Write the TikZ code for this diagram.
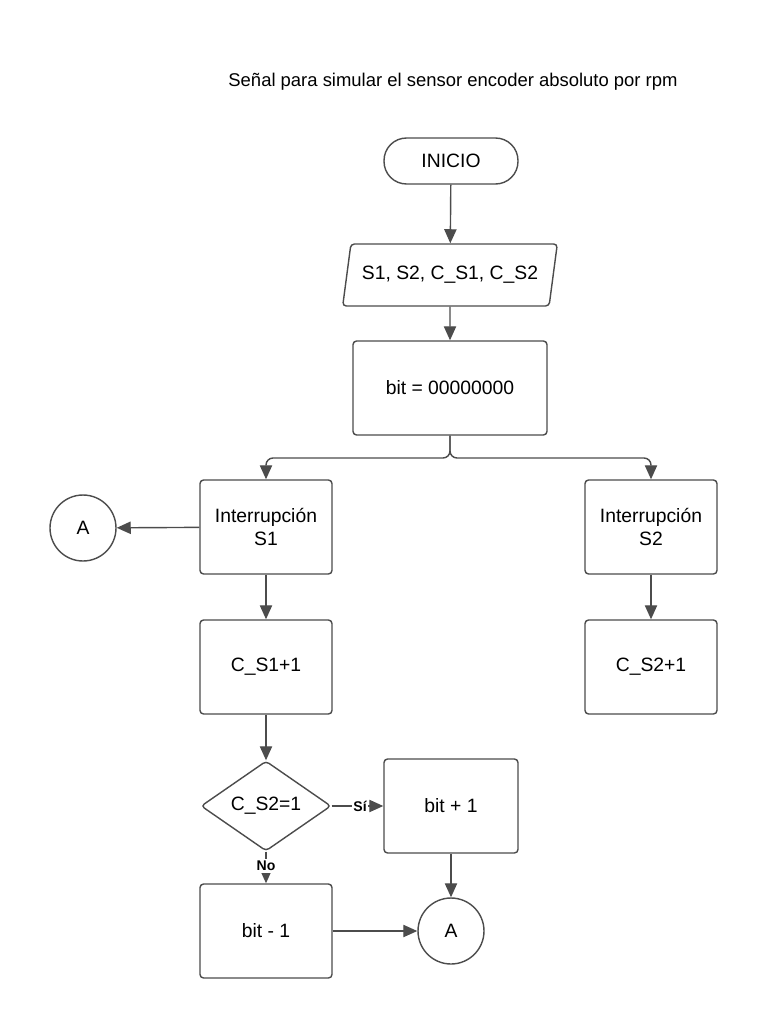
\documentclass[tikz,border=0pt]{standalone}
\usepackage{fontspec}
\setmainfont{Liberation Sans}
\usetikzlibrary{shapes.geometric,arrows.meta}
\begin{document}
\begin{tikzpicture}
    [x=0.02cm, y=-0.02cm,
    Box/.style={rectangle, rounded corners=2pt, draw=black!70, thick, minimum width=2.64cm, minimum height=1.88cm, font=\fontsize{11}{13}\selectfont, align=center},
    Conn/.style={circle, draw=black!70, thick, minimum size=1.32cm, inner sep=0pt, font=\fontsize{11}{13}\selectfont},
    Flow/.style={draw=black!70, thick, -{Triangle[width=7pt,length=8pt]}},
    Lbl/.style={font=\bfseries\fontsize{8}{10}\selectfont}]
     \useasboundingbox (0,0) rectangle (768,1024);
     \node (TitleLabel) at (453,82){\fontsize{10.5}{12}\selectfont Señal para simular el sensor encoder absoluto por rpm};
     \node[Box, rounded corners=0.45cm, minimum width=2.68cm, minimum height=0.92cm] (inicio) at (451,161){INICIO};
     \node[trapezium, trapezium left angle=75, trapezium right angle=105, trapezium stretches=true, draw=black!70, thick, rounded corners=2pt, minimum width=4.3cm, minimum height=1.24cm, font=\fontsize{11}{13}\selectfont] (vars) at (450,275){S1, S2, C\_S1, C\_S2};
     \node[Box, minimum width=3.88cm] (bit) at (450,388){bit = 00000000};
     \node[Box] (intA) at (266,527){Interrupción\\S1};
     \node[Box] (intB) at (651,527){Interrupción\\S2};
     \node[Conn] (connA) at (83,528){A};
     \node[Box] (incA) at (266,667){C\_S1+1};
     \node[Box] (incB) at (651,667){C\_S2+1};
     \node[diamond, aspect=1.45, draw=black!70, thick, rounded corners=2pt, minimum width=2.6cm, minimum height=1.8cm, inner sep=0pt, font=\fontsize{11}{13}\selectfont] (test) at (266,806){C\_S2=1};
     \node[Box, minimum width=2.68cm] (plus) at (451,806){bit + 1};
     \node[Box] (minus) at (266,931){bit - 1};
     \node[Conn] (connB) at (451,931){A};
     \draw[Flow] (inicio) -- (vars);
     \draw[Flow] (vars) -- (bit);
     \draw[Flow, rounded corners=4pt] (bit.south) |- (266,458) -- (intA.north);
     \draw[Flow, rounded corners=4pt] (bit.south) |- (651,458) -- (intB.north);
     \draw[Flow] (intA) -- (connA);
     \draw[Flow] (intA) -- (incA);
     \draw[Flow] (intB) -- (incB);
     \draw[Flow] (incA) -- (test);
     \draw[Flow] (test) -- node[Lbl, pos=0.55, fill=white, inner sep=1pt] (SiLabel){Sí} (plus);
     \draw[Flow] (test) -- node[Lbl, pos=0.45, fill=white, inner sep=1pt] (NoLabel){No} (minus);
     \draw[Flow] (plus) -- (connB);
     \draw[Flow] (minus) -- (connB);
\end{tikzpicture}
\end{document}
